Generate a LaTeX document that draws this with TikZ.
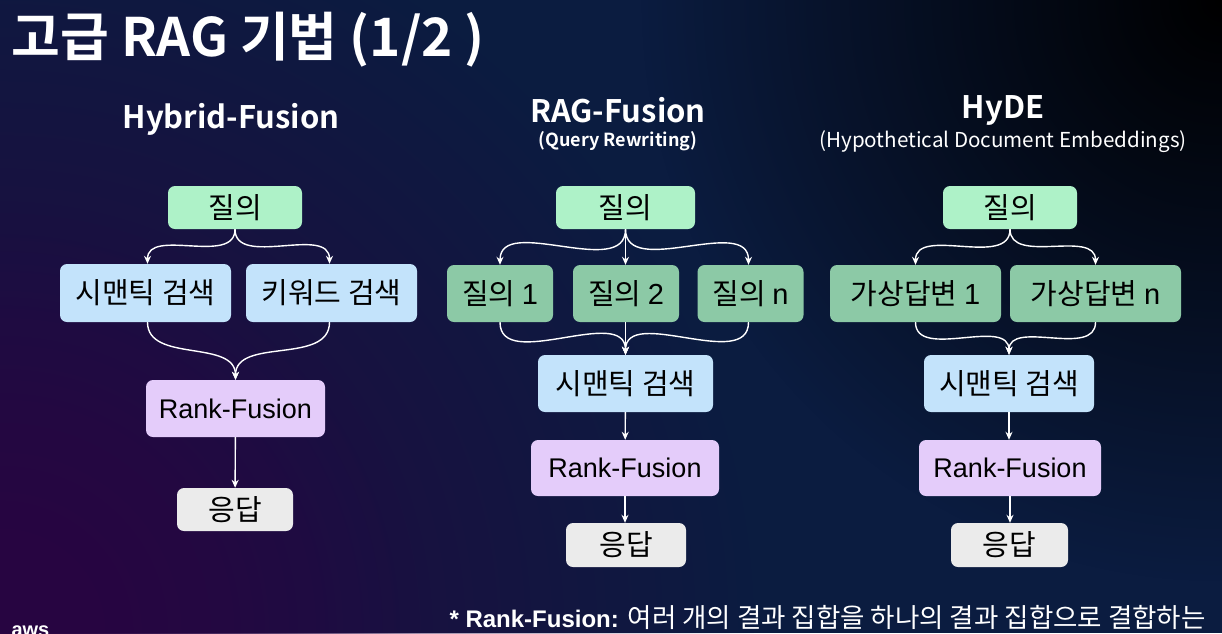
\documentclass[tikz,border=0pt]{standalone}
\usepackage{fontspec}
\setmainfont{Liberation Sans}
\newfontfamily\kr{Noto Sans CJK KR}[BoldFont={* Bold}]
\usetikzlibrary{fadings, arrows.meta}

\definecolor{bgnavy}{HTML}{0B1C40}
\definecolor{bgpurple}{HTML}{280542}
\definecolor{qgreen}{HTML}{AEF2C8}
\definecolor{subgreen}{HTML}{8CC9A6}
\definecolor{semblue}{HTML}{C3E3FB}
\definecolor{rankpurple}{HTML}{E4CCFA}
\definecolor{ansgray}{HTML}{EBEBEB}

\tikzfading[name=cornerfade, inner color=transparent!0, outer color=transparent!100]

\begin{document}
\begin{tikzpicture} [x=1pt, y=1pt,
		box/.style = {rounded corners=7pt, inner sep=0pt, text=black, font=\kr\fontsize{29}{32}\selectfont},
		qbox/.style = {box, fill=qgreen},
		subq/.style = {box, fill=subgreen},
		sbox/.style = {box, fill=semblue},
		rbox/.style = {box, fill=rankpurple, font=\fontsize{27}{30}\selectfont},
		abox/.style = {box, fill=ansgray},
		flow/.style = {white, line width=1.4pt, -{Stealth[length=8pt, width=7pt]}},
		head/.style = {text=white, font=\kr\bfseries\fontsize{31}{34}\selectfont}]
		\useasboundingbox (0,0) rectangle (1222,-633);
		\fill [bgnavy] (0,0) rectangle (1222,-633);
		\fill [black, path fading=cornerfade] (1222,0) circle (580);
		\fill [bgpurple, path fading=cornerfade] (0,-633) circle (760);
		\fill [bgpurple, path fading=cornerfade] (0,-633) circle (420);

		\node [anchor=west, text=white, font=\kr\bfseries\fontsize{53}{56}\selectfont] (title) at (8,-40) {고급 RAG 기법 (1/2 )};

		% Hybrid-Fusion
		\node [head] (h1) at (231,-119) {Hybrid-Fusion};
		\node [qbox, minimum width=134, minimum height=43] (q1) at (235,-207.5) {질의};
		\node [sbox, minimum width=171, minimum height=58] (sem1) at (145.5,-293) {시맨틱 검색};
		\node [sbox, minimum width=171, minimum height=58] (key1) at (331.5,-293) {키워드 검색};
		\node [rbox, minimum width=179, minimum height=57] (rank1) at (235.5,-408.5) {Rank-Fusion};
		\node [abox, minimum width=116, minimum height=43] (ans1) at (235,-509.5) {응답};
		\draw [flow] (q1.south) to [out=-90, in=90] ([xshift=2pt]sem1.north);
		\draw [flow] (q1.south) to [out=-90, in=90] ([xshift=-2pt]key1.north);
		\draw [flow] ([xshift=2pt]sem1.south) to [out=-90, in=90] (rank1.north);
		\draw [flow] ([xshift=-2pt]key1.south) to [out=-90, in=90] (rank1.north);
		\draw [flow] (rank1) -- (ans1);

		% RAG-Fusion
		\node [head] (h2) at (618,-110) {RAG-Fusion};
		\node [text=white, font=\kr\bfseries\fontsize{18}{20}\selectfont] (h2sub) at (618,-141) {(Query Rewriting)};
		\node [qbox, minimum width=139, minimum height=43] (q2) at (625.5,-207.5) {질의};
		\node [subq, minimum width=106, minimum height=57] (q2a) at (500,-293.5) {질의 \fontspec{Liberation Sans}1};
		\node [subq, minimum width=106, minimum height=57] (q2b) at (626,-293.5) {질의 \fontspec{Liberation Sans}2};
		\node [subq, minimum width=106, minimum height=57] (q2n) at (750.5,-293.5) {질의 \fontspec{Liberation Sans}n};
		\node [sbox, minimum width=175, minimum height=57] (sem2) at (625.5,-383.5) {시맨틱 검색};
		\node [rbox, minimum width=188, minimum height=56] (rank2) at (625,-468) {Rank-Fusion};
		\node [abox, minimum width=120, minimum height=44] (ans2) at (626,-545) {응답};
		\draw [flow] (q2.south) to [out=-90, in=90] (q2a.north);
		\draw [flow] (q2.south) -- (q2.south |- q2b.north);
		\draw [flow] (q2.south) to [out=-90, in=90] ([xshift=-2pt]q2n.north);
		\draw [flow] (q2a.south) to [out=-90, in=90] (sem2.north);
		\draw [flow] (q2b.south -| sem2.north) -- (sem2.north);
		\draw [flow] ([xshift=-2pt]q2n.south) to [out=-90, in=90] (sem2.north);
		\draw [flow] (sem2) -- (rank2);
		\draw [flow] (rank2) -- (rank2 |- ans2.north);

		% HyDE
		\node [head] (h3) at (1003,-110) {HyDE};
		\node [text=white, font=\kr\fontsize{20.6}{23}\selectfont] (h3sub) at (1003,-142) {(Hypothetical Document Embeddings)};
		\node [qbox, minimum width=134, minimum height=43] (q3) at (1010,-207.5) {질의};
		\node [subq, minimum width=171, minimum height=57] (hyp3a) at (915.5,-293.5) {가상답변 \fontspec{Liberation Sans}1};
		\node [subq, minimum width=171, minimum height=57] (hyp3n) at (1095.5,-293.5) {가상답변 \fontspec{Liberation Sans}n};
		\node [sbox, minimum width=170, minimum height=57] (sem3) at (1009,-383.5) {시맨틱 검색};
		\node [rbox, minimum width=182, minimum height=56] (rank3) at (1010,-468) {Rank-Fusion};
		\node [abox, minimum width=117, minimum height=44] (ans3) at (1009.5,-545) {응답};
		\draw [flow] (q3.south) to [out=-90, in=90] (hyp3a.north);
		\draw [flow] (q3.south) to [out=-90, in=90] (hyp3n.north);
		\draw [flow] (hyp3a.south) to [out=-90, in=90] (sem3.north);
		\draw [flow] (hyp3n.south) to [out=-90, in=90] (sem3.north);
		\draw [flow] (sem3) -- (sem3 |- rank3.north);
		\draw [flow] (rank3) -- (rank3 |- ans3.north);

		\node [anchor=west, text=white, font=\fontsize{24}{28}\selectfont] (note) at (446,-617) {\textbf{* Rank-Fusion:} {\kr\fontsize{26.5}{28}\selectfont 여러 개의 결과 집합을 하나의 결과 집합으로 결합하는}};
		\node [anchor=north west, text=white, font=\bfseries\fontsize{20}{22}\selectfont] (aws) at (8,-622) {aws};
	\end{tikzpicture}
\end{document}
